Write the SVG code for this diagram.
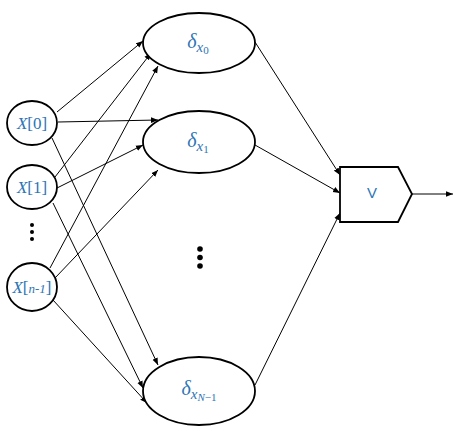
<svg xmlns="http://www.w3.org/2000/svg" width="474" height="431" viewBox="0 0 474 431">
<defs>
<marker id="ah" viewBox="0 0 10 10" refX="10" refY="5" markerWidth="7" markerHeight="7" markerUnits="userSpaceOnUse" orient="auto">
<path d="M0,1 L10,5 L0,9 z" fill="#000"/>
</marker>
<style>
.node{fill:#fff;stroke:#000;stroke-width:1.8}
.conn{stroke:#000;stroke-width:1;fill:none;marker-end:url(#ah)}
.lbl{font-family:"Liberation Serif","DejaVu Serif",serif;fill:#2E75B6;font-size:17px}
.dl{font-size:20px}
.it{font-style:italic}
.dot{fill:#000}
</style>
</defs>
<rect width="474" height="431" fill="#fff"/>
<g id="connectors">
<line class="conn" x1="57" y1="112" x2="143" y2="41"/>
<line class="conn" x1="58" y1="122" x2="158" y2="120"/>
<line class="conn" x1="52" y1="138" x2="158" y2="365"/>
<line class="conn" x1="55" y1="177" x2="151" y2="53"/>
<line class="conn" x1="57" y1="188" x2="143" y2="145"/>
<line class="conn" x1="53" y1="203" x2="143" y2="388"/>
<line class="conn" x1="50" y1="268" x2="158" y2="66"/>
<line class="conn" x1="55" y1="278" x2="158" y2="170"/>
<line class="conn" x1="53" y1="300" x2="147" y2="403"/>
<line class="conn" x1="255" y1="42" x2="340" y2="175"/>
<line class="conn" x1="255" y1="145" x2="340" y2="193"/>
<line class="conn" x1="255" y1="385" x2="340" y2="213"/>
<line class="conn" x1="412" y1="194" x2="453" y2="194"/>
</g>
<g id="x0">
<ellipse class="node" cx="32" cy="123" rx="25" ry="22"/>
<text class="lbl" x="32" y="129" text-anchor="middle"><tspan class="it">X</tspan>[0]</text>
</g>
<g id="x1">
<ellipse class="node" cx="32" cy="187" rx="25" ry="22"/>
<text class="lbl" x="32" y="193" text-anchor="middle"><tspan class="it">X</tspan>[1]</text>
</g>
<g id="xdots">
<circle class="dot" cx="32" cy="225" r="2"/>
<circle class="dot" cx="32" cy="232" r="2"/>
<circle class="dot" cx="32" cy="239" r="2"/>
</g>
<g id="xn1">
<ellipse class="node" cx="32" cy="287" rx="25" ry="24"/>
<text class="lbl" x="32" y="293" text-anchor="middle"><tspan class="it">X</tspan>[<tspan class="it" font-size="13">n-1</tspan>]</text>
</g>
<g id="d0">
<ellipse class="node" cx="199" cy="43" rx="56" ry="30"/>
<text class="lbl dl" x="198" y="48" text-anchor="middle"><tspan class="it">δ</tspan><tspan class="it" font-size="15" dy="4">x</tspan><tspan font-size="11" dy="2">0</tspan></text>
</g>
<g id="d1">
<ellipse class="node" cx="199" cy="142" rx="56" ry="31"/>
<text class="lbl dl" x="198" y="147" text-anchor="middle"><tspan class="it">δ</tspan><tspan class="it" font-size="15" dy="4">x</tspan><tspan font-size="11" dy="2">1</tspan></text>
</g>
<g id="ddots">
<circle class="dot" cx="200" cy="249" r="2.8"/>
<circle class="dot" cx="200" cy="257.5" r="2.8"/>
<circle class="dot" cx="200" cy="266" r="2.8"/>
</g>
<g id="dn1">
<ellipse class="node" cx="199" cy="391" rx="56" ry="34"/>
<text class="lbl dl" x="199" y="395" text-anchor="middle"><tspan class="it">δ</tspan><tspan class="it" font-size="15" dy="4">x</tspan><tspan class="it" font-size="11" dy="2">N</tspan><tspan font-size="11">−1</tspan></text>
</g>
<g id="or">
<path class="node" d="M340,167 L398,167 L412,194 L398,222 L340,222 Z"/>
<text x="372" y="198" text-anchor="middle" font-family="Liberation Sans, Arial, sans-serif" font-size="15" fill="#2E75B6">V</text>
</g>
</svg>
